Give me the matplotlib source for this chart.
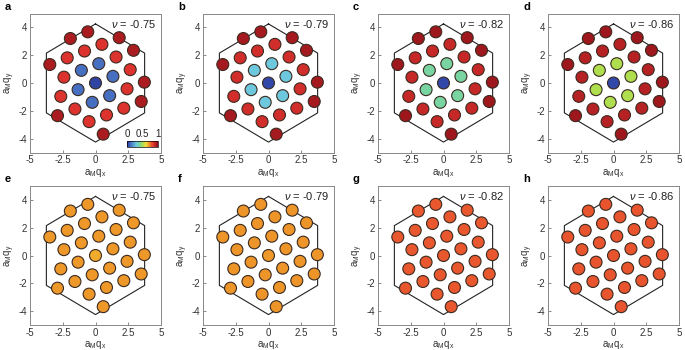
#!/usr/bin/env python3
"""Eight hexagonal Bragg-peak panels (a-h)."""

import matplotlib
matplotlib.use('Agg')
import matplotlib.pyplot as plt
from matplotlib.colors import LinearSegmentedColormap, Normalize
from matplotlib.cm import ScalarMappable

plt.rcParams['font.family'] = ['Liberation Sans', 'DejaVu Sans']
plt.rcParams['mathtext.fontset'] = 'custom'
plt.rcParams['mathtext.rm'] = 'Liberation Sans'
plt.rcParams['mathtext.it'] = 'Liberation Sans:italic'

# peak positions (aM qx, aM qy)
qx = [0.0,
      0.25, 1.33, 1.08, -0.25, -1.08, -1.33,
      0.49, 2.65, 2.16, -0.49, -2.16, -2.65,
      1.57, -0.84, -2.41, -1.57, 0.84, 2.41,
      1.81, -0.59, -1.92, -3.49, -2.90, 0.59, 3.49, 3.73, 2.90]
qy = [0.0,
      1.39, 0.48, -0.91, -1.39, 0.91, -0.48,
      2.78, 0.96, -1.81, -2.78, 1.81, -0.96,
      1.87, 2.30, 0.42, -1.87, -2.30, -0.42,
      3.26, 3.68, 3.20, 1.33, -2.35, -3.68, -1.33, 0.06, 2.35]
# shell index of each peak (0 = centre)
shell = [0] + [1] * 6 + [2] * 12 + [3] * 9

# hexagon outline
hex_x = [0, 3.75, 3.75, 0, -3.75, -3.75, 0]
hex_y = [4.25, 2.15, -2.15, -4.25, -2.15, 2.15, 4.25]

labels = ['a', 'b', 'c', 'd', 'e', 'f', 'g', 'h']
nu = ['-0.75', '-0.79', '-0.82', '-0.86', '-0.75', '-0.79', '-0.82', '-0.86']
# colour value per shell (centre, shell1, shell2, shell3) for each panel
shell_vals = [
    [0.03, 0.12, 0.87, 0.95],
    [0.04, 0.30, 0.89, 0.96],
    [0.04, 0.40, 0.91, 0.97],
    [0.04, 0.52, 0.93, 0.97],
    [0.69, 0.715, 0.715, 0.715],
    [0.715, 0.72, 0.72, 0.72],
    [0.795, 0.795, 0.795, 0.795],
    [0.80, 0.80, 0.80, 0.80],
]

cmap = LinearSegmentedColormap.from_list('peaks', [
    (0.00, (0.16, 0.22, 0.58)),
    (0.05, (0.20, 0.30, 0.68)),
    (0.12, (0.28, 0.44, 0.76)),
    (0.30, (0.43, 0.79, 0.87)),
    (0.40, (0.47, 0.83, 0.63)),
    (0.52, (0.68, 0.87, 0.31)),
    (0.62, (0.97, 0.86, 0.22)),
    (0.72, (0.93, 0.59, 0.16)),
    (0.80, (0.91, 0.33, 0.18)),
    (0.87, (0.87, 0.20, 0.18)),
    (1.00, (0.55, 0.06, 0.09)),
])
norm = Normalize(0, 1)

fig = plt.figure(figsize=(6.85, 3.5), dpi=100)
W, H = 685.0, 350.0
lefts = [30, 203, 378, 548]
tops = [13.5, 186]
aw, ah = 131, 139

for i in range(8):
    row, col = divmod(i, 4)
    ax = fig.add_axes([lefts[col] / W, 1 - (tops[row] + ah) / H, aw / W, ah / H])
    ax.plot(hex_x, hex_y, color='#222222', lw=0.8, zorder=1)
    vals = [shell_vals[i][s] for s in shell]
    ax.scatter(qx, qy, c=vals, cmap=cmap, norm=norm, s=74,
               edgecolors='#3a2a20', linewidths=0.8, zorder=2)
    ax.set_xlim(-5, 5)
    ax.set_ylim(-5, 5)
    ax.set_xticks([-5, -2.5, 0, 2.5, 5])
    ax.set_xticklabels(['-5', '-2.5', '0', '2.5', '5'])
    ax.set_yticks([-4, -2, 0, 2, 4])
    ax.set_yticklabels(['-4', '-2', '0', '2', '4'])
    ax.tick_params(direction='in', length=2, width=0.6, labelsize=7,
                   colors='#777777', labelcolor='#333333', pad=2)
    for sp in ax.spines.values():
        sp.set_color('#888888')
        sp.set_linewidth(0.7)
    ax.set_xlabel(r'a$_\mathrm{M}$q$_\mathrm{x}$', fontsize=7, color='#333333', labelpad=1)
    ax.set_ylabel(r'a$_\mathrm{M}$q$_\mathrm{y}$', fontsize=7, color='#333333', labelpad=1)
    ax.text(0.96, 0.925, r'$\nu$ = ' + nu[i], transform=ax.transAxes,
            ha='right', va='center', fontsize=8, color='#222222')
    fig.text((lefts[col] - 25) / W, 1 - (tops[row] - 7) / H, labels[i],
             fontsize=8, fontweight='bold', ha='left', va='center')

    if i == 0:
        cax = ax.inset_axes([2.4, -4.6, 2.35, 0.45], transform=ax.transData)
        cb = fig.colorbar(ScalarMappable(norm=norm, cmap=cmap), cax=cax,
                          orientation='horizontal', ticks=[0, 0.5, 1])
        cb.ax.xaxis.set_ticks_position('top')
        cb.ax.set_xticklabels(['0', '0.5', '1'])
        cb.ax.tick_params(length=0, labelsize=7, pad=1, labelcolor='#222222')
        cb.outline.set_linewidth(0.5)

fig.savefig('out.png', dpi=100)
